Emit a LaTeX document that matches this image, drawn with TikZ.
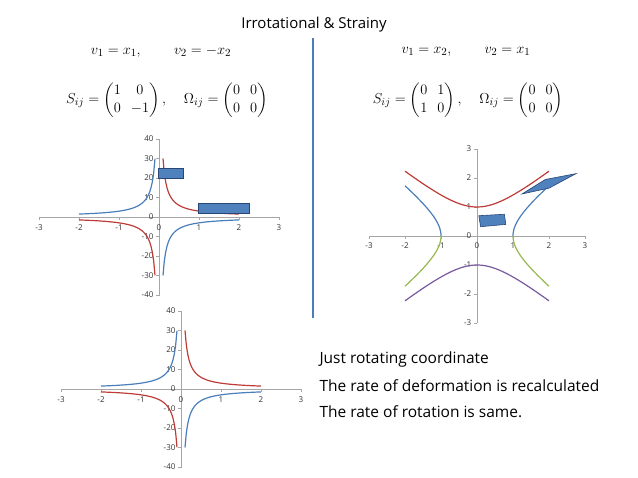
\documentclass[tikz,border=0pt]{standalone}
\usepackage{fontspec}
\usepackage{amsmath}
\setmainfont{Open Sans}
\definecolor{cblue}{RGB}{74,126,187}
\definecolor{cred}{RGB}{190,60,55}
\definecolor{cgreen}{RGB}{150,185,80}
\definecolor{cpurple}{RGB}{120,90,160}
\definecolor{rectfill}{RGB}{79,129,189}
\definecolor{rectdraw}{RGB}{40,70,120}
\begin{document}
\begin{tikzpicture}[x=1pt,y=-1pt,
  ax/.style={gray!70,line width=0.6pt},
  tk/.style={font=\fontsize{8}{9}\selectfont,text=black!80},
  crv/.style={line width=1.2pt},
  shp/.style={fill=rectfill,draw=rectdraw,line width=0.6pt},
  mth/.style={font=\fontsize{15.5}{18}\selectfont},
  txt/.style={font=\fontsize{15.5}{18}\selectfont,anchor=west}]
\useasboundingbox (0,0) rectangle (638,478);
\node (title) at (314,25) {\fontsize{15}{17}\selectfont Irrotational \& Strainy};
\draw[cblue,line width=2pt] (313,38) coordinate (d1) -- (313,318) coordinate (d2);
\node[mth] (e1) at (161,52) {$v_1=x_1,\qquad v_2=-x_2$};
\node[mth] (e2) at (167,100) {$S_{ij}=\begin{pmatrix}1&0\\0&-1\end{pmatrix},\quad \Omega_{ij}=\begin{pmatrix}0&0\\0&0\end{pmatrix}$};
\node[mth] (e3) at (466,52) {$v_1=x_2,\qquad v_2=x_1$};
\node[mth] (e4) at (468,100) {$S_{ij}=\begin{pmatrix}0&1\\1&0\end{pmatrix},\quad \Omega_{ij}=\begin{pmatrix}0&0\\0&0\end{pmatrix}$};
\foreach \ox/\oy/\nm in {159/217/a,181/389/b}{
 \begin{scope}[shift={(\ox,\oy)}]
  \draw[ax] (-120,0) -- (120,0);
  \draw[ax] (0,-78) -- (0,79);
  \foreach \i in {-3,...,3}{\draw[ax] (40*\i,0) -- (40*\i,3);
    \node[tk] at (40*\i,11) {\i};}
  \foreach \j in {-40,-30,...,40}{\draw[ax] (-3,-1.95*\j) -- (0,-1.95*\j);
    \node[tk,anchor=east] at (-2,-1.95*\j) {\j};}
  \draw[crv,cblue,domain=-2:-0.1,samples=60] plot (40*\x,{1.95*3/\x});
  \draw[crv,cblue,domain=0.1:2,samples=60] plot (40*\x,{1.95*3/\x});
  \draw[crv,cred,domain=-2:-0.1,samples=60] plot (40*\x,{-1.95*3/\x});
  \draw[crv,cred,domain=0.1:2,samples=60] plot (40*\x,{-1.95*3/\x});
 \end{scope}}
\draw[shp] (158,168) rectangle (183,178);
\draw[shp] (198,203) rectangle (249,213);
\begin{scope}[shift={(477,236)},x=36pt,y=29pt]
  \draw[ax] (-3,0) -- (3,0);
  \draw[ax] (0,-3) -- (0,3);
  \foreach \i in {-3,...,3}{\draw[ax] (\i,0) -- (\i,-0.1);
    \node[tk] at (\i,-0.33) {\i};}
  \foreach \j in {-3,...,3}{\draw[ax] (-0.08,\j) -- (0,\j);
    \node[tk,anchor=east] at (-0.06,\j) {\j};}
  \draw[crv,cred,domain=-2:2,samples=60] plot (\x,{sqrt(1+\x*\x)});
  \draw[crv,cpurple,domain=-2:2,samples=60] plot (\x,{-sqrt(1+\x*\x)});
  \draw[crv,cblue,domain=0:1.732,samples=40] plot ({sqrt(1+\x*\x)},\x);
  \draw[crv,cblue,domain=0:1.732,samples=40] plot ({-sqrt(1+\x*\x)},\x);
  \draw[crv,cgreen,domain=0:-1.732,samples=40] plot ({sqrt(1+\x*\x)},\x);
  \draw[crv,cgreen,domain=0:-1.732,samples=40] plot ({-sqrt(1+\x*\x)},\x);
  \draw[shp] (0.1,0.32) -- (0.8,0.4) -- (0.76,0.75) -- (0.05,0.7) -- cycle;
  \draw[shp] (1.25,1.45) -- (2,1.65) -- (2.75,2.15) -- (1.9,1.95) -- cycle;
\end{scope}
\node[txt] (t1) at (316,359) {Just rotating coordinate};
\node[txt] (t2) at (316,386) {The rate of deformation is recalculated};
\node[txt] (t3) at (316,412) {The rate of rotation is same.};
\end{tikzpicture}
\end{document}
